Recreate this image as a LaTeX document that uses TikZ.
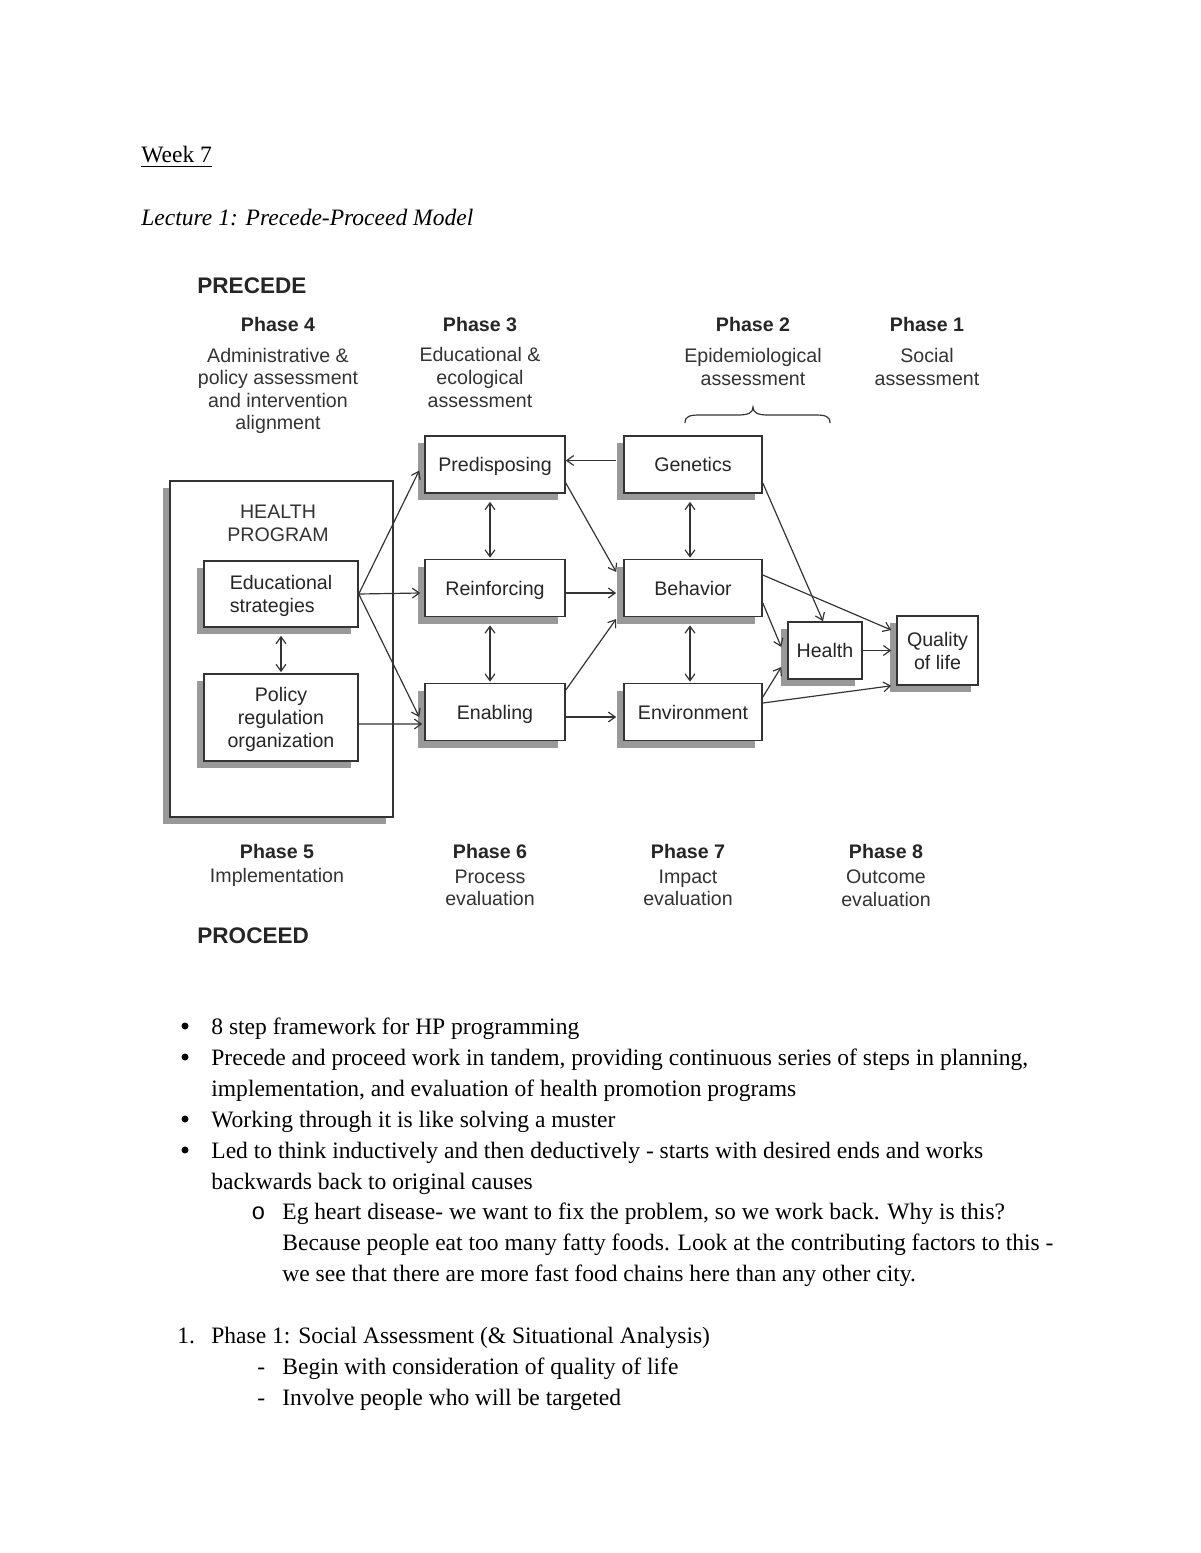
\documentclass[tikz,border=0pt]{standalone}
\usepackage{fontspec}
\setmainfont{Liberation Serif}
\newfontfamily\diag{Liberation Sans}
\newfontfamily\monof{Liberation Mono}
\usetikzlibrary{arrows.meta,shadows,calc}
\begin{document}
\begin{tikzpicture}[x=0.51pt,y=-0.51pt,
  bx/.style={draw=black!80, line width=0.8pt, fill=white, inner sep=0pt, text depth=0pt,
    general shadow={fill=black!40, shadow xshift=-3.6pt, shadow yshift=-3.6pt},
    font=\diag\fontsize{10}{11.7}\selectfont, text=black!85, align=center},
  ar/.style={draw=black!80, line width=0.6pt, -{Straight Barb[length=3.5pt,width=5pt]}},
  dar/.style={draw=black!80, line width=0.6pt, {Straight Barb[length=3.5pt,width=5pt]}-{Straight Barb[length=3.5pt,width=5pt]}},
  ph/.style={font=\diag\bfseries\fontsize{10}{12}\selectfont, text=black!85, inner sep=0pt, anchor=base},
  dsc/.style={font=\diag\fontsize{10}{11.5}\selectfont, text=black!80, align=center, inner sep=0pt},
  big/.style={font=\diag\bfseries\fontsize{11.5}{13}\selectfont, text=black!85, anchor=west, inner sep=0pt},
  body/.style={font=\fontsize{12}{14}\selectfont, anchor=base west, inner sep=0pt},
  bul/.style={fill=black},
]
\fill[white] (0,0) rectangle (1200,1553);
\useasboundingbox (0,0) rectangle (1200,1553);

% heading
\node[body] (wk) at (141,163) {\underline{Week 7}};
\node[body] (lec) at (141,225) {\itshape Lecture 1: Precede-Proceed Model};

% top labels
\node[big] (precede) at (197,286) {PRECEDE};
\node[ph] (p4) at (278,331) {Phase 4};
\node[dsc] (d4) at (278,391) {Administrative \&\\policy assessment\\and intervention\\alignment};
\node[ph] (p3) at (480,331) {Phase 3};
\node[dsc] (d3) at (480,377.5) {Educational \&\\ecological\\assessment};
\node[ph] (p2) at (753,331) {Phase 2};
\node[dsc] (d2) at (753,367) {Epidemiological\\assessment};
\node[ph] (p1) at (927,331) {Phase 1};
\node[dsc] (d1) at (927,367) {Social\\assessment};

% brace
\draw[black!80, line width=0.6pt] (685,423) .. controls (685,416) and (690,415) .. (700,415) -- (738,415)
  .. controls (748,415) and (753,413) .. (753,407) .. controls (753,413) and (758,415) .. (768,415)
  -- (815,415) .. controls (825,415) and (830,416) .. (830,423);

% health program
\node[bx, minimum width=113.7pt, minimum height=171.4pt] (hp) at (281.5,649) {};
\node[dsc, font=\diag\fontsize{10}{11.7}\selectfont] (hpt) at (278,523.5) {HEALTH\\PROGRAM};
\node[bx, minimum width=78.5pt, minimum height=33.7pt, align=left] (edu) at (281,594) {Educational\\strategies};
\node[bx, minimum width=78.5pt, minimum height=44.4pt] (pol) at (281,717.5) {Policy\\regulation\\organization};

% phase 3 column
\node[bx, minimum width=71.4pt, minimum height=29.1pt] (pre) at (495,464.5) {Predisposing};
\node[bx, minimum width=71.4pt, minimum height=29.1pt] (rei) at (495,588) {Reinforcing};
\node[bx, minimum width=71.4pt, minimum height=29.1pt] (ena) at (495,712) {Enabling};

% phase 2 column
\node[bx, minimum width=70.4pt, minimum height=29.1pt] (gen) at (693,464.5) {Genetics};
\node[bx, minimum width=70.4pt, minimum height=29.1pt] (beh) at (693,588) {Behavior};
\node[bx, minimum width=70.4pt, minimum height=29.1pt] (env) at (693,712) {Environment};
\node[bx, minimum width=37.7pt, minimum height=29.1pt] (hea) at (825,650.5) {Health};
\node[bx, minimum width=41.3pt, minimum height=35.2pt] (qol) at (937.5,650.5) {Quality\\of life};

% arrows
\draw[dar] ([shift={(0,8)}]edu.south) -- ([shift={(0,-1)}]pol.north);
\draw[ar] (edu.east) -- ([shift={(-5,6)}]pre.west);
\draw[ar] (edu.east) -- ([shift={(-4,5)}]rei.west);
\draw[ar] (edu.east) -- ([shift={(-5,5)}]ena.west);
\draw[ar] ([shift={(0,6.5)}]pol.east) -- ([shift={(-2,12)}]ena.west);
\draw[ar] ([shift={(-7,-4)}]gen.west) -- ([shift={(0,-4)}]pre.east);
\draw[dar] ([shift={(-5,8)}]pre.south) -- ([shift={(-5,-1)}]rei.north);
\draw[dar] ([shift={(-5,8)}]rei.south) -- ([shift={(-5,-1)}]ena.north);
\draw[dar] ([shift={(-3,8)}]gen.south) -- ([shift={(-3,-1)}]beh.north);
\draw[dar] ([shift={(-3,8)}]beh.south) -- ([shift={(-3,-1)}]env.north);
\draw[ar] ([shift={(0,18.5)}]pre.east) -- ([shift={(-7,-16)}]beh.west);
\draw[ar] ([shift={(0,5)}]rei.east) -- ([shift={(-7,5)}]beh.west);
\draw[ar] ([shift={(0,-22)}]ena.east) -- ([shift={(-7,31)}]beh.west);
\draw[ar] ([shift={(0,5)}]ena.east) -- ([shift={(-7,5)}]env.west);
\draw[ar] ([shift={(0,18.5)}]gen.east) -- ([shift={(-2,0)}]hea.north);
\draw[ar] ([shift={(0,15)}]beh.east) -- ([shift={(-6,-3.5)}]hea.west);
\draw[ar] ([shift={(0,-15)}]env.east) -- ([shift={(-6,16.5)}]hea.west);
\draw[ar] ([shift={(0,-13)}]beh.east) -- ([shift={(-5,-20.5)}]qol.west);
\draw[ar] (hea.east) -- ([shift={(-5,0)}]qol.west);
\draw[ar] ([shift={(0,-9)}]env.east) -- ([shift={(-5,0)}]qol.south west);

% bottom labels
\node[ph] (p5) at (277,858) {Phase 5};
\node[dsc] (d5) at (277,877) {Implementation};
\node[ph] (p6) at (490,858) {Phase 6};
\node[dsc] (d6) at (490,888) {Process\\evaluation};
\node[ph] (p7) at (688,858) {Phase 7};
\node[dsc] (d7) at (688,888) {Impact\\evaluation};
\node[ph] (p8) at (886,858) {Phase 8};
\node[dsc] (d8) at (886,888) {Outcome\\evaluation};
\node[big] (proceed) at (197,936) {PROCEED};

% body text
\fill[bul] (185,1026) circle (3.5);
\node[body] (l1) at (211,1034) {8 step framework for HP programming};
\fill[bul] (185,1057) circle (3.5);
\node[body] (l2) at (211,1065) {Precede and proceed work in tandem, providing continuous series of steps in planning,};
\node[body] (l3) at (211,1096) {implementation, and evaluation of health promotion programs};
\fill[bul] (185,1119) circle (3.5);
\node[body] (l4) at (211,1127) {Working through it is like solving a muster};
\fill[bul] (185,1150) circle (3.5);
\node[body] (l5) at (211,1158) {Led to think inductively and then deductively - starts with desired ends and works};
\node[body] (l6) at (211,1189) {backwards back to original causes};
\node[body, font=\monof\fontsize{12}{14}\selectfont] (o1) at (251,1219) {o};
\node[body] (l7) at (282,1219) {Eg heart disease- we want to fix the problem, so we work back. Why is this?};
\node[body] (l8) at (282,1250) {Because people eat too many fatty foods. Look at the contributing factors to this -};
\node[body] (l9) at (282,1281) {we see that there are more fast food chains here than any other city.};
\node[body] (n1) at (177,1343) {1.};
\node[body] (l10) at (211,1343) {Phase 1: Social Assessment (\& Situational Analysis)};
\node[body] (m1) at (257,1374) {-};
\node[body] (l11) at (282,1374) {Begin with consideration of quality of life};
\node[body] (m2) at (257,1405) {-};
\node[body] (l12) at (282,1405) {Involve people who will be targeted};
\end{tikzpicture}
\end{document}
